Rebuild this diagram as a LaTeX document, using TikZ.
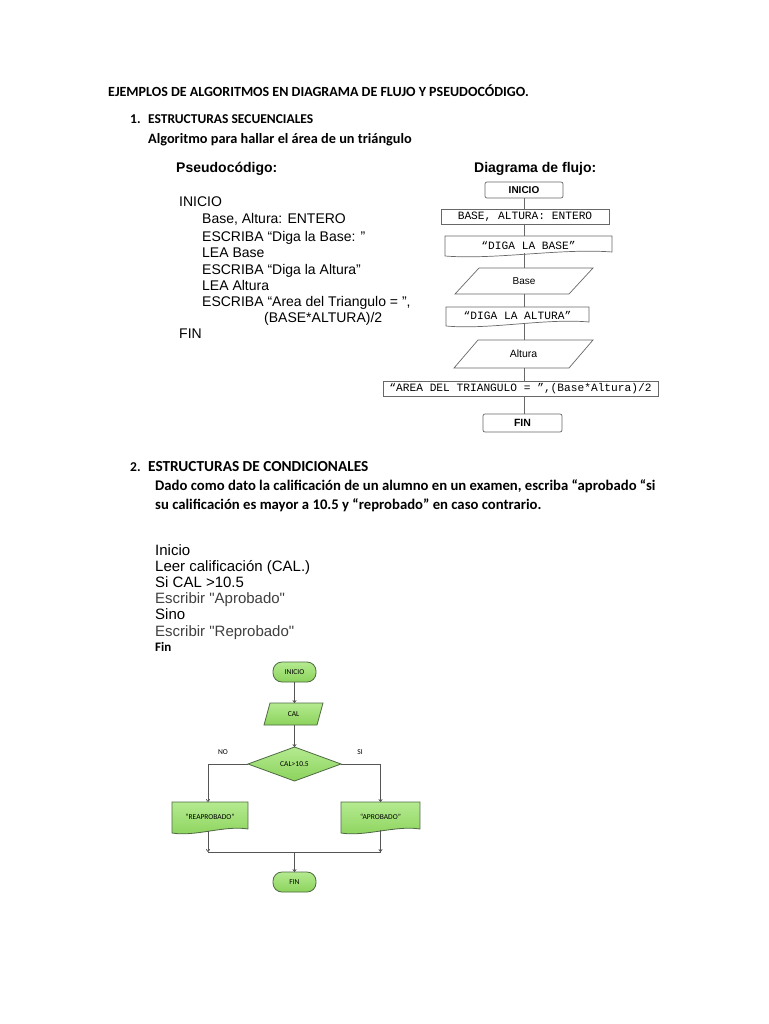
\documentclass[tikz,border=0pt]{standalone}
\usepackage{fontspec}
\setmainfont{Carlito}
\newfontfamily\arial{Liberation Sans}
\newfontfamily\cour{Liberation Mono}
\usetikzlibrary{calc,arrows.meta}
\definecolor{gtop}{HTML}{B4EA90}
\definecolor{gbot}{HTML}{8CD35C}
\definecolor{gline}{HTML}{4E6A42}
\definecolor{fline}{HTML}{686868}
\definecolor{aline}{HTML}{555555}
\definecolor{soft}{HTML}{404040}
\pgfdeclarelayer{bg}
\pgfdeclarelayer{back}
\pgfsetlayers{back,bg,main}
\newcommand\docshape[2]{\path[#2] (#1.north west) -- (#1.north east) -- ($(#1.south east)+(0,-4)$) .. controls ($(#1.south west)!0.7!(#1.south east)+(0,-8)$) and ($(#1.south west)!0.3!(#1.south east)+(0,4)$) .. (#1.south west) -- cycle;}
\newcommand\parashape[3]{\path[#3] ($(#1.north west)+(#2,0)$) -- (#1.north east) -- ($(#1.south east)+(-#2,0)$) -- (#1.south west) -- cycle;}
\newcommand\diashape[2]{\path[#2] (#1.north) -- (#1.east) -- (#1.south) -- (#1.west) -- cycle;}
\tikzset{
  body/.style={anchor=base west, inner sep=0pt, font=\fontsize{13.5}{16}\selectfont},
  bbody/.style={body, font=\bfseries\fontsize{13.5}{16}\selectfont},
  ps/.style={anchor=base west, inner sep=0pt, font=\arial\fontsize{14}{16}\selectfont},
  ghost/.style={inner sep=0pt, outer sep=0pt},
  fbox/.style={ghost, draw=fline, line width=0.7pt, fill=white},
  fshape/.style={draw=fline, line width=0.7pt, fill=white},
  mono/.style={font=\cour\fontsize{11.2}{13}\selectfont},
  fconn/.style={draw=fline, line width=0.7pt},
  gterm/.style={ghost, draw=gline, line width=0.8pt, top color=gtop, bottom color=gbot, rounded corners=9pt, font=\fontsize{7.5}{9}\selectfont},
  gshape/.style={draw=gline, line width=0.8pt, top color=gtop, bottom color=gbot},
  gtext/.style={font=\fontsize{7.5}{9}\selectfont},
  garr/.style={draw=aline, line width=0.7pt, -{To[length=3pt,width=4pt]}},
  gl/.style={draw=aline, line width=0.7pt}
}
\begin{document}
\begin{tikzpicture}[x=1pt,y=-1pt]
\begin{pgfonlayer}{back}
\fill[white] (0,0) rectangle (768,1024);
\end{pgfonlayer}
\useasboundingbox (0,0) rectangle (768,1024);

% headings
\node[bbody, font=\bfseries\fontsize{14}{16}\selectfont] (title) at (108,97) {EJEMPLOS DE ALGORITMOS EN DIAGRAMA DE FLUJO Y PSEUDOCÓDIGO.};
\node[bbody] (n1) at (130,124) {1.};
\node[bbody] (h1) at (148,124) {ESTRUCTURAS SECUENCIALES};
\node[bbody, font=\bfseries\fontsize{14.3}{16}\selectfont] (s1) at (148,144) {Algoritmo para hallar el área de un triángulo};

% pseudocode 1
\node[ps, font=\arial\bfseries\fontsize{14}{16}\selectfont] (psh) at (176,173) {Pseudocódigo:};
\node[ps] (p1) at (179,207) {INICIO};
\node[ps] (p2) at (202,224) {Base, Altura: ENTERO};
\node[ps] (p3) at (202,241) {ESCRIBA “Diga la Base: ”};
\node[ps] (p4) at (202,258) {LEA Base};
\node[ps] (p5) at (202,274) {ESCRIBA “Diga la Altura”};
\node[ps] (p6) at (202,290) {LEA Altura};
\node[ps] (p7) at (202,306) {ESCRIBA “Area del Triangulo = ”,};
\node[ps] (p8) at (264,322) {(BASE*ALTURA)/2};
\node[ps] (p9) at (179,338) {FIN};

% flowchart 1
\node[ps, font=\arial\bfseries\fontsize{14}{16}\selectfont] (dfh) at (474,173) {Diagrama de flujo:};
\node[fbox, rounded corners=2pt, minimum width=78pt, minimum height=16pt, font=\arial\bfseries\fontsize{10}{12}\selectfont] (ini1) at (524,190) {INICIO};
\node[fbox, minimum width=168pt, minimum height=15pt, mono] (base1) at (525,216.5) {BASE, ALTURA: ENTERO};
\node[ghost, minimum width=167pt, minimum height=20pt, mono] (diga1) at (528.5,246) {\raisebox{2pt}{“DIGA LA BASE”}};
\node[ghost, minimum width=138pt, minimum height=26pt, font=\arial\fontsize{10}{12}\selectfont] (bpar) at (524,281) {Base};
\node[ghost, minimum width=143pt, minimum height=19pt, mono] (diga2) at (517.5,316.5) {\raisebox{2pt}{“DIGA LA ALTURA”}};
\node[ghost, minimum width=139pt, minimum height=28pt, font=\arial\fontsize{10.5}{12}\selectfont] (apar) at (523.5,354) {Altura};
\node[fbox, minimum width=275pt, minimum height=15pt, mono] (area) at (520.5,388.5) {“AREA DEL TRIANGULO = ”,(Base*Altura)/2};
\node[fbox, rounded corners=2pt, minimum width=79pt, minimum height=18pt, font=\arial\bfseries\fontsize{10.5}{12}\selectfont] (fin1) at (522.5,423) {FIN};
\begin{pgfonlayer}{bg}
\docshape{diga1}{fshape}
\parashape{bpar}{24}{fshape}
\docshape{diga2}{fshape}
\parashape{apar}{24}{fshape}
\end{pgfonlayer}
\draw[fconn] (ini1.south) -- (ini1.south |- base1.north);
\draw[fconn] (ini1.south |- base1.south) -- (ini1.south |- diga1.north);
\draw[fconn] ($(ini1.south |- diga1.south)+(0,-3)$) -- (ini1.south |- bpar.north);
\draw[fconn] (ini1.south |- bpar.south) -- (ini1.south |- diga2.north);
\draw[fconn] ($(ini1.south |- diga2.south)+(0,-3)$) -- (ini1.south |- apar.north);
\draw[fconn] (ini1.south |- apar.south) -- (ini1.south |- area.north);
\draw[fconn] (ini1.south |- area.south) -- (ini1.south |- fin1.north);

% section 2
\node[bbody] (n2) at (130,471) {2.};
\node[bbody, font=\bfseries\fontsize{15.3}{17}\selectfont] (h2) at (148,471) {ESTRUCTURAS DE CONDICIONALES};
\node[bbody, font=\bfseries\fontsize{14.7}{17}\selectfont] (s2a) at (155,490) {Dado como dato la calificación de un alumno en un examen, escriba “aprobado “si};
\node[bbody, font=\bfseries\fontsize{14.7}{17}\selectfont] (s2b) at (155,509) {su calificación es mayor a 10.5 y “reprobado” en caso contrario.};

% pseudocode 2
\node[ps, font=\arial\fontsize{15}{17}\selectfont] (q1) at (155,555) {Inicio};
\node[ps, font=\arial\fontsize{15}{17}\selectfont] (q2) at (155,571) {Leer calificación (CAL.)};
\node[ps, font=\arial\fontsize{15}{17}\selectfont] (q3) at (155,587) {Si CAL >10.5};
\node[ps, font=\arial\fontsize{15}{17}\selectfont, text=soft] (q4) at (155,603) {Escribir "Aprobado"};
\node[ps, font=\arial\fontsize{15}{17}\selectfont] (q5) at (155,619) {Sino};
\node[ps, font=\arial\fontsize{15}{17}\selectfont, text=soft] (q6) at (155,636) {Escribir "Reprobado"};
\node[bbody, font=\bfseries\fontsize{13}{15}\selectfont] (q7) at (155,651) {Fin};

% flowchart 2
\node[gterm, minimum width=43pt, minimum height=20pt] (ini2) at (294.5,672) {INICIO};
\node[ghost, minimum width=59pt, minimum height=22pt, gtext] (cal) at (293.5,714) {CAL};
\node[ghost, minimum width=93pt, minimum height=34pt, gtext] (dia) at (294.5,764) {CAL>10.5};
\node[ghost, minimum width=76pt, minimum height=31pt, gtext] (rep) at (210,817.5) {\raisebox{2pt}{“REAPROBADO”}};
\node[ghost, minimum width=79pt, minimum height=31pt, gtext] (apr) at (380.5,817.5) {\raisebox{2pt}{“APROBADO”}};
\node[gterm, minimum width=43pt, minimum height=20pt] (fin2) at (294.5,882) {FIN};
\node[gtext, inner sep=0pt] (no) at (223,752) {NO};
\node[gtext, inner sep=0pt] (si) at (360,752) {SI};
\coordinate (jn) at (294.5,852);
\begin{pgfonlayer}{bg}
\parashape{cal}{6}{gshape}
\diashape{dia}{gshape}
\docshape{rep}{gshape}
\docshape{apr}{gshape}
\end{pgfonlayer}
\draw[garr] (ini2.south) -- (ini2.south |- cal.north);
\draw[garr] (cal.south -| dia.north) -- (dia.north);
\draw[garr] (dia.west) -| ($(rep.north)+(-2,0)$);
\draw[garr] (dia.east) -| (apr.north);
\draw[garr] ($(rep.south)+(-2,-2)$) -- ($(rep.south |- jn)+(-2,0)$);
\draw[garr] ($(apr.south)+(0,-3)$) -- (apr.south |- jn);
\draw[gl] ($(rep.south |- jn)+(-2,0)$) -- (apr.south |- jn);
\draw[garr] (jn) -- (fin2.north);
\end{tikzpicture}
\end{document}
